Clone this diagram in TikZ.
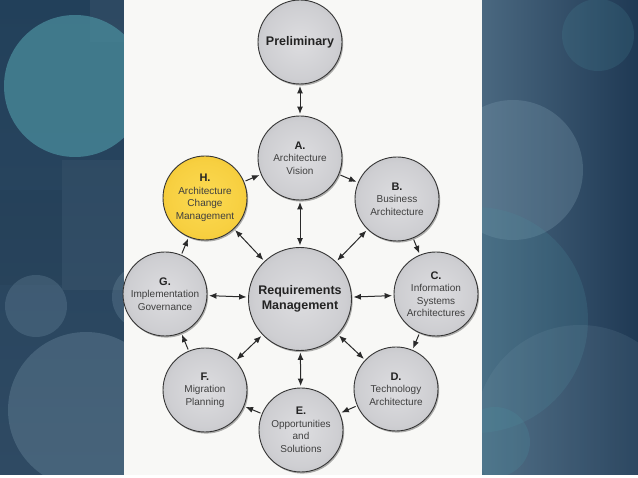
\documentclass[tikz,border=0pt]{standalone}
\usepackage{fontspec}
\setmainfont{Liberation Sans}
\usetikzlibrary{arrows.meta,shadows}
\definecolor{ballin}{HTML}{DDDDE0}
\definecolor{ballout}{HTML}{A2A3A8}
\definecolor{yelin}{HTML}{FCDA52}
\definecolor{yelout}{HTML}{E8B00C}
\definecolor{ringcol}{HTML}{353535}
\definecolor{txtcol}{HTML}{3F3F3F}
\definecolor{ltrcol}{HTML}{232323}
\definecolor{arrcol}{HTML}{2A2A2A}
\definecolor{panelcol}{HTML}{F8F8F6}
\definecolor{bgA}{HTML}{22405A}
\definecolor{bgB}{HTML}{40596F}
\definecolor{bgC}{HTML}{2F4A63}
\definecolor{bgR1}{HTML}{4A6880}
\definecolor{bgR2}{HTML}{1F3954}
\definecolor{teal}{HTML}{4A8C9C}
\definecolor{mist}{HTML}{7E9DB0}
\pgfdeclareradialshading{grayball}{\pgfpoint{0bp}{0bp}}{color(0bp)=(ballin);color(22bp)=(ballin!75!ballout);color(50bp)=(ballout);color(100bp)=(ballout)}
\pgfdeclareradialshading{yellowball}{\pgfpoint{0bp}{0bp}}{color(0bp)=(yelin);color(22bp)=(yelin!75!yelout);color(50bp)=(yelout);color(100bp)=(yelout)}
\newcommand\phaseltr[1]{{\fontsize{11}{12.5}\selectfont\bfseries\color{ltrcol}#1}}
\begin{document}
\begin{tikzpicture}[x=1pt,y=-1pt,
  ball/.style={circle, draw=ringcol, line width=0.9pt, minimum size=84pt, inner sep=0pt,
    shading=grayball, align=center, text=txtcol,
    font=\fontsize{10}{12.5}\selectfont,
    drop shadow={shadow xshift=1.2pt, shadow yshift=-1.6pt, opacity=0.3, fill=black}},
  yball/.style={ball, shading=yellowball},
  bigball/.style={ball, minimum size=103pt, font=\fontsize{12.5}{15}\selectfont\bfseries, text=ltrcol},
  flow/.style={draw=arrcol, line width=1pt, -{Latex[length=7.5pt,width=6pt]}, shorten <=1.5pt, shorten >=1.5pt},
  biflow/.style={flow, {Latex[length=7.5pt,width=6pt]}-{Latex[length=7.5pt,width=6pt]}}]
\useasboundingbox (0,0) rectangle (638,478);
% background
\shade[top color=bgA, middle color=bgB, bottom color=bgC] (0,0) rectangle (124,478);
\shade[left color=bgR1, right color=bgR2] (482,0) rectangle (638,478);
\fill[white, opacity=0.05] (90,0) rectangle (124,42);
\fill[white, opacity=0.04] (62,160) rectangle (124,290);
\fill[black, opacity=0.04] (0,190) rectangle (62,285);
\fill[teal, opacity=0.75] (75,86) circle (71);
\fill[mist, opacity=0.25] (36,306) circle (31);
\fill[mist, opacity=0.25] (145,297) circle (33);
\fill[mist, opacity=0.3] (86,410) circle (78);
\fill[teal, opacity=0.2] (598,35) circle (36);
\fill[mist, opacity=0.3] (513,170) circle (70);
\fill[teal, opacity=0.22] (475,320) circle (113);
\fill[mist, opacity=0.15] (580,430) circle (105);
\fill[teal, opacity=0.25] (495,442) circle (35);
\fill[white] (0,475) rectangle (638,478);
% panel
\fill[panelcol] (124,0) rectangle (482,475);
% nodes
\node[ball, font=\fontsize{12.5}{15}\selectfont\bfseries, text=ltrcol] (P) at (300,42) {Preliminary};
\node[bigball] (R) at (300,299) {Requirements\\Management};
\node[ball] (A) at (300,158) {\phaseltr{A.}\\Architecture\\Vision};
\node[ball] (B) at (397,199) {\phaseltr{B.}\\Business\\Architecture};
\node[ball] (C) at (436,294) {\phaseltr{C.}\\Information\\Systems\\Architectures};
\node[ball] (D) at (396,389) {\phaseltr{D.}\\Technology\\Architecture};
\node[ball] (E) at (301,430) {\phaseltr{E.}\\Opportunities\\and\\Solutions};
\node[ball] (F) at (205,390) {\phaseltr{F.}\\Migration\\Planning};
\node[ball] (G) at (165,294) {\phaseltr{G.}\\Implementation\\Governance};
\node[yball] (H) at (205,198) {\phaseltr{H.}\\Architecture\\Change\\Management};
% connectors
\draw[biflow] (P) -- (A);
\foreach \n in {A,B,C,D,E,F,G,H} \draw[biflow] (R) -- (\n);
\draw[flow] (A) -- (B);
\draw[flow] (B) -- (C);
\draw[flow] (C) -- (D);
\draw[flow] (D) -- (E);
\draw[flow] (E) -- (F);
\draw[flow] (F) -- (G);
\draw[flow] (G) -- (H);
\draw[flow] (H) -- (A);
\end{tikzpicture}
\end{document}
